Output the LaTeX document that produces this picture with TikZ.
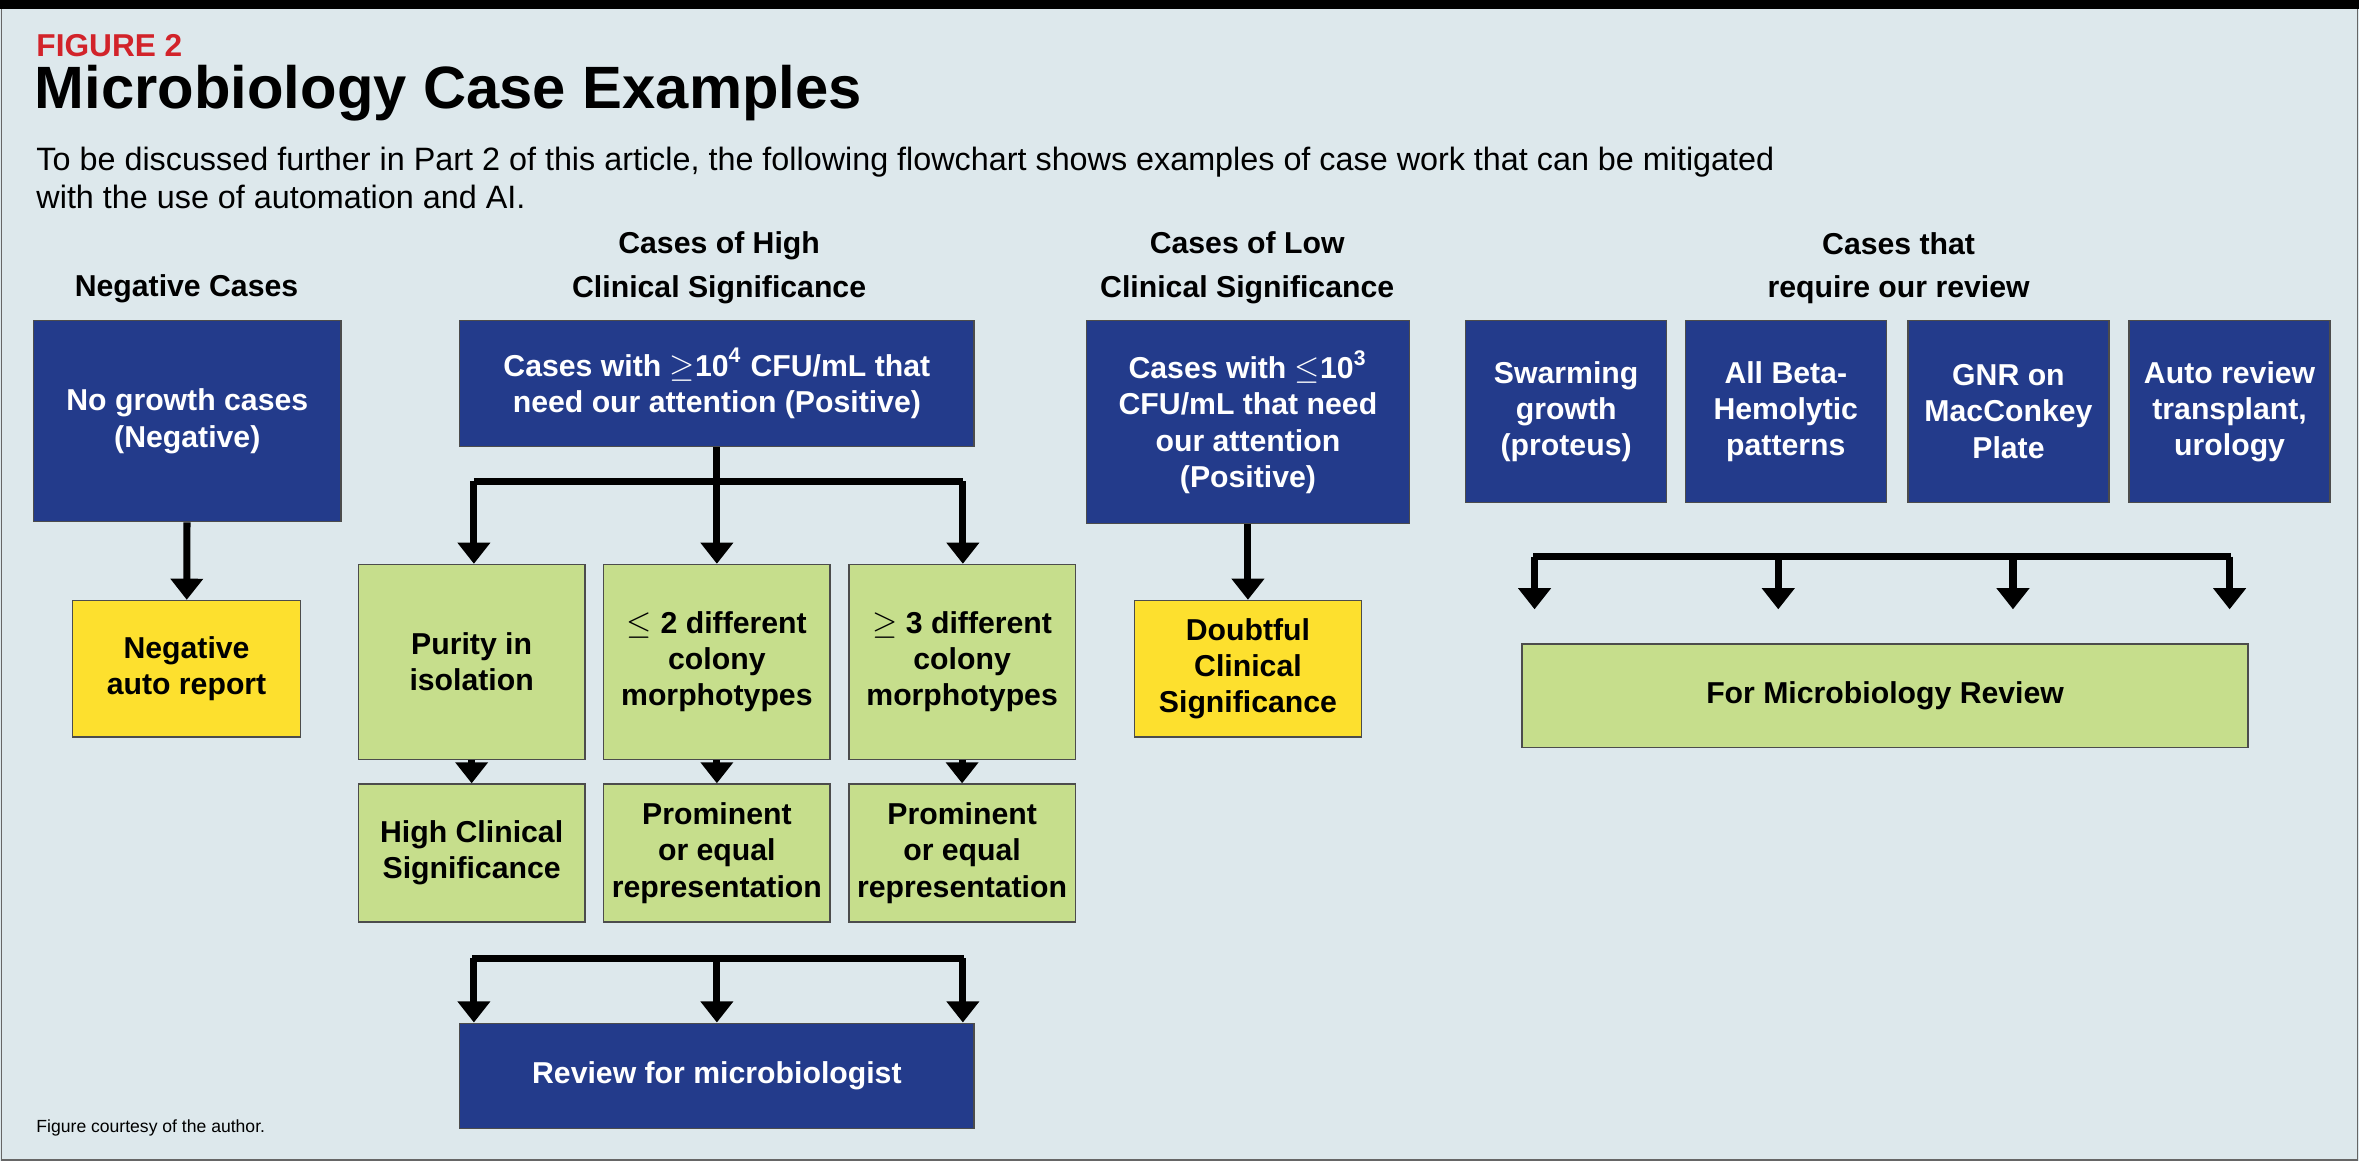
\documentclass[tikz,border=0pt]{standalone}
\usepackage{fontspec}
\setmainfont{Liberation Sans}
\usetikzlibrary{arrows.meta, calc}
\definecolor{pagebg}{HTML}{DDE8EC}
\definecolor{caseblue}{HTML}{233B8B}
\definecolor{casegreen}{HTML}{C6DE8C}
\definecolor{caseyellow}{HTML}{FDE02E}
\definecolor{figred}{HTML}{D2232A}

\tikzset{
    box/.style={draw=black!70, thin, align=center, inner sep=2pt,
        font=\fontsize{8.6}{10.3}\selectfont\bfseries},
    bluebox/.style={box, fill=caseblue, text=white},
    greenbox/.style={box, fill=casegreen},
    yellowbox/.style={box, fill=caseblue!0!caseyellow},
    head/.style={align=center, font=\fontsize{8.6}{12.3}\selectfont\bfseries},
    flow/.style={line width=2pt, -{Triangle[length=6pt,width=9pt]}},
    bar/.style={line width=2pt}
}

% box from corner (x1,y1) to corner (x2,y2), in picture units
\newcommand{\bx}[7]{
    \node[#1, minimum width={(#5-#3)*0.4268pt}, minimum height={(#6-#4)*0.4268pt}]
        (#2) at ({(#3+#5)/2},{(#4+#6)/2}) {#7};
}

\begin{document}
\begin{tikzpicture}[x=0.015045cm, y=-0.015045cm]

    %% Frame
    \fill[pagebg] (0,0) rectangle (1568,772);
    \useasboundingbox (0,0) rectangle (1568,772);
    \draw[black!60, thin] (1,1) rectangle (1567,771);
    \fill[black] (0,0) rectangle (1568,6);

    %% Header
    \node[anchor=west, text=figred, font=\fontsize{9}{10}\selectfont\bfseries] at (16,30) {FIGURE 2};
    \node[anchor=west, font=\fontsize{17}{19}\selectfont\bfseries] at (15,62) {Microbiology Case Examples};
    \node[anchor=west, align=left, font=\fontsize{9.2}{10.8}\selectfont] at (16,118)
        {To be discussed further in Part 2 of this article, the following flowchart shows examples of case work that can be mitigated\\with the use of automation and AI.};
    \node[anchor=west, font=\fontsize{5}{6}\selectfont] at (16,750) {Figure courtesy of the author.};

    %% Column titles
    \node[head] (tneg) at (124,192) {Negative Cases};
    \node[head] (thigh) at (478,178) {Cases of High\\Clinical Significance};
    \node[head] (tlow) at (829,178) {Cases of Low\\Clinical Significance};
    \node[head] (trev) at (1262,178) {Cases that\\require our review};

    %% Negative cases
    \bx{bluebox}{neg}{22}{213}{227}{347}{No growth cases\\(Negative)}
    \bx{yellowbox}{negrep}{48}{399}{200}{490}{Negative\\auto report}
    \draw[flow] (neg) -- (negrep);

    %% High significance
    \bx{bluebox}{high}{305}{213}{648}{297}{Cases with \(\geq\)10\textsuperscript{4} CFU/mL that\\need our attention (Positive)}
    \bx{greenbox}{pur}{238}{375}{389}{505}{Purity in\\isolation}
    \bx{greenbox}{two}{401}{375}{552}{505}{\(\leq\) 2 different\\colony\\morphotypes}
    \bx{greenbox}{three}{564}{375}{715}{505}{\(\geq\) 3 different\\colony\\morphotypes}
    \bx{greenbox}{hcs}{238}{521}{389}{613}{High Clinical\\Significance}
    \bx{greenbox}{prom}{401}{521}{552}{613}{Prominent\\or equal\\representation}
    \bx{greenbox}{promb}{564}{521}{715}{613}{Prominent\\or equal\\representation}
    \bx{bluebox}{micro}{305}{680}{648}{750}{Review for microbiologist}

    \coordinate (hl) at (315,320);
    \coordinate (hr) at (640,320);
    \draw[bar] (high.south) -- (high.south |- hl);
    \draw[bar] (hl) -- (hr);
    \draw[flow] (hl) -- (hl |- pur.north);
    \draw[flow] (two.north |- hl) -- (two.north);
    \draw[flow] (hr) -- (hr |- three.north);
    \foreach \a/\b in {pur/hcs, two/prom, three/promb}
        \draw[flow] (\a.south) -- (\b.north);

    \coordinate (ml) at (315,637);
    \coordinate (mr) at (640,637);
    \draw[bar] ($(ml)+(-1,0)$) -- ($(mr)+(1,0)$);
    \draw[flow] (ml) -- (ml |- micro.north);
    \draw[flow] (micro.north |- ml) -- (micro.north);
    \draw[flow] (mr) -- (mr |- micro.north);

    %% Low significance
    \bx{bluebox}{low}{722}{213}{937}{348}{Cases with \(\leq\)10\textsuperscript{3}\\CFU/mL that need\\our attention\\(Positive)}
    \bx{yellowbox}{doubt}{754}{399}{905}{490}{Doubtful\\Clinical\\Significance}
    \draw[flow] (low) -- (doubt);

    %% Review cases
    \bx{bluebox}{swarm}{974}{213}{1108}{334}{Swarming\\growth\\(proteus)}
    \bx{bluebox}{beta}{1120}{213}{1254}{334}{All Beta-\\Hemolytic\\patterns}
    \bx{bluebox}{gnr}{1268}{213}{1402}{334}{GNR on\\MacConkey\\Plate}
    \bx{bluebox}{auto}{1415}{213}{1549}{334}{Auto review\\transplant,\\urology}
    \bx{greenbox}{forrev}{1011}{428}{1495}{497}{For Microbiology Review}

    \coordinate (rl) at (1020,370);
    \coordinate (rr) at (1482,370);
    \draw[bar] ($(rl)+(-1,0)$) -- ($(rr)+(1,0)$);
    \foreach \x in {1020,1182,1338,1482}
        \draw[flow] (\x,370) -- (\x,405);

\end{tikzpicture}
\end{document}
